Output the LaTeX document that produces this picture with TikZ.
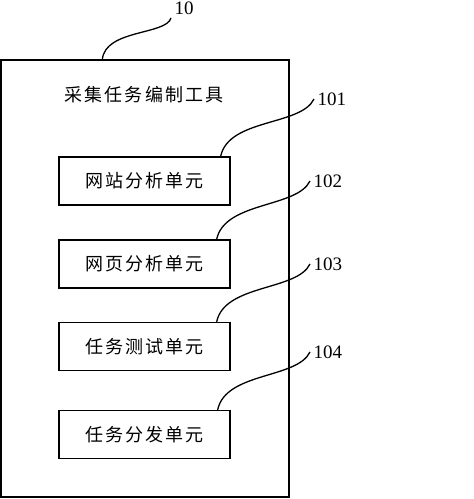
\documentclass[tikz,border=0pt]{standalone}
\usepackage{fontspec}
\setmainfont{Liberation Serif}
\newfontfamily\cjk[LetterSpace=12]{Noto Sans CJK SC}

\begin{document}
\begin{tikzpicture}[
x=1pt,
y=-1pt,
line width=1.3pt,
unit/.style={
draw,
minimum width=171pt,
minimum height=48pt,
font=\cjk\fontsize{18}{18}\selectfont
},
num/.style={
font=\fontsize{19}{19}\selectfont,
inner sep=3pt
}
]
\useasboundingbox (0,0) rectangle (474,499);

\node[draw,minimum width=288pt,minimum height=437pt] (tool) at (145,278.5) {};
\node[font=\cjk\fontsize{18}{18}\selectfont] (title) at (144,95) {采集任务编制工具};

\node[unit] (u1) at (144.5,181) {网站分析单元};
\node[unit] (u2) at (144.5,264) {网页分析单元};
\node[unit] (u3) at (144.5,346.5) {任务测试单元};
\node[unit] (u4) at (144.5,434.5) {任务分发单元};

\node[num,anchor=south west] (l10) at (171,18) {10};
\node[num,anchor=west] (l101) at (314,99) {101};
\node[num,anchor=west] (l102) at (310,181) {102};
\node[num,anchor=west] (l103) at (310,264) {103};
\node[num,anchor=west] (l104) at (310,352) {104};

\draw ([xshift=102pt]tool.north west) .. controls +(3,-30) and +(-5,17) .. (l10.south west);
\draw ([xshift=-10pt]u1.north east) .. controls +(8,-38) and +(-13,27) .. (l101.west);
\draw ([xshift=-14pt]u2.north east) .. controls +(8,-38) and +(-13,27) .. (l102.west);
\draw ([xshift=-14pt]u3.north east) .. controls +(8,-38) and +(-13,27) .. (l103.west);
\draw ([xshift=-13pt]u4.north east) .. controls +(8,-38) and +(-13,27) .. (l104.west);

\end{tikzpicture}
\end{document}
